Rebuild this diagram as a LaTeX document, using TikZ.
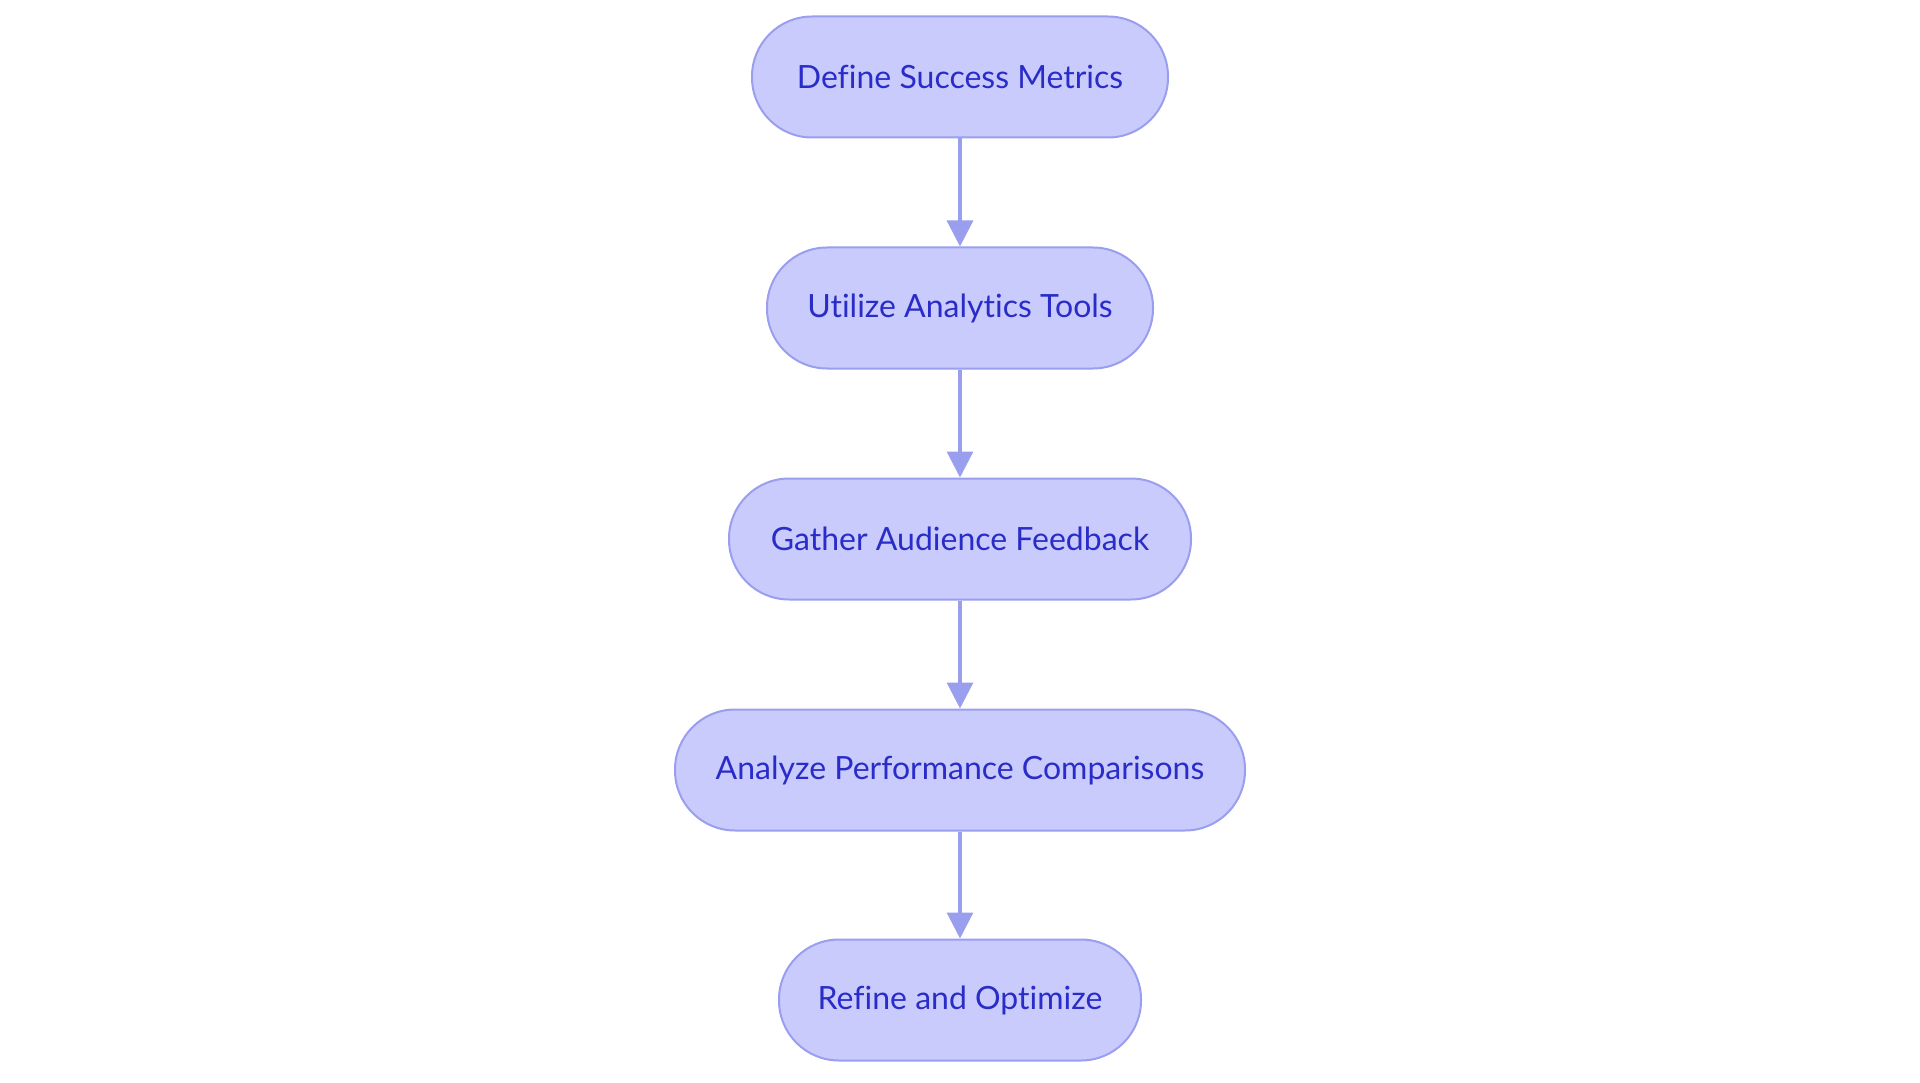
\documentclass[tikz,border=0pt]{standalone}
\usepackage{fontspec}
\setmainfont[Ligatures=NoCommon]{Lato}
\usetikzlibrary{arrows.meta}
\definecolor{nodefill}{HTML}{C9CBFD}
\definecolor{nodeline}{HTML}{9A9EEE}
\definecolor{nodetext}{HTML}{2A2CC8}
\definecolor{arrowcol}{HTML}{9A9EEE}
\tikzset{
  stadium/.style={draw=nodeline, fill=nodefill, line width=2pt, rounded corners=60pt,
    minimum height=121pt, text=nodetext, font=\fontsize{32}{37}\selectfont, inner sep=0pt},
  flowarrow/.style={draw=arrowcol, line width=3.2pt, -{Triangle[length=26pt,width=26pt]}}
}
\begin{document}
\begin{tikzpicture}[x=1pt,y=1pt]
\useasboundingbox (0,0) rectangle (1920,-1083);
\node[stadium, minimum width=416pt] (n1) at (960,-77) {Define Success Metrics};
\node[stadium, minimum width=386pt] (n2) at (960,-308) {Utilize Analytics Tools};
\node[stadium, minimum width=462pt] (n3) at (960,-539) {Gather Audience Feedback};
\node[stadium, minimum width=570pt] (n4) at (960,-770) {Analyze Performance Comparisons};
\node[stadium, minimum width=362pt] (n5) at (960,-1000) {Refine and Optimize};
\draw[flowarrow] (n1) -- (n2);
\draw[flowarrow] (n2) -- (n3);
\draw[flowarrow] (n3) -- (n4);
\draw[flowarrow] (n4) -- (n5);
\end{tikzpicture}
\end{document}
